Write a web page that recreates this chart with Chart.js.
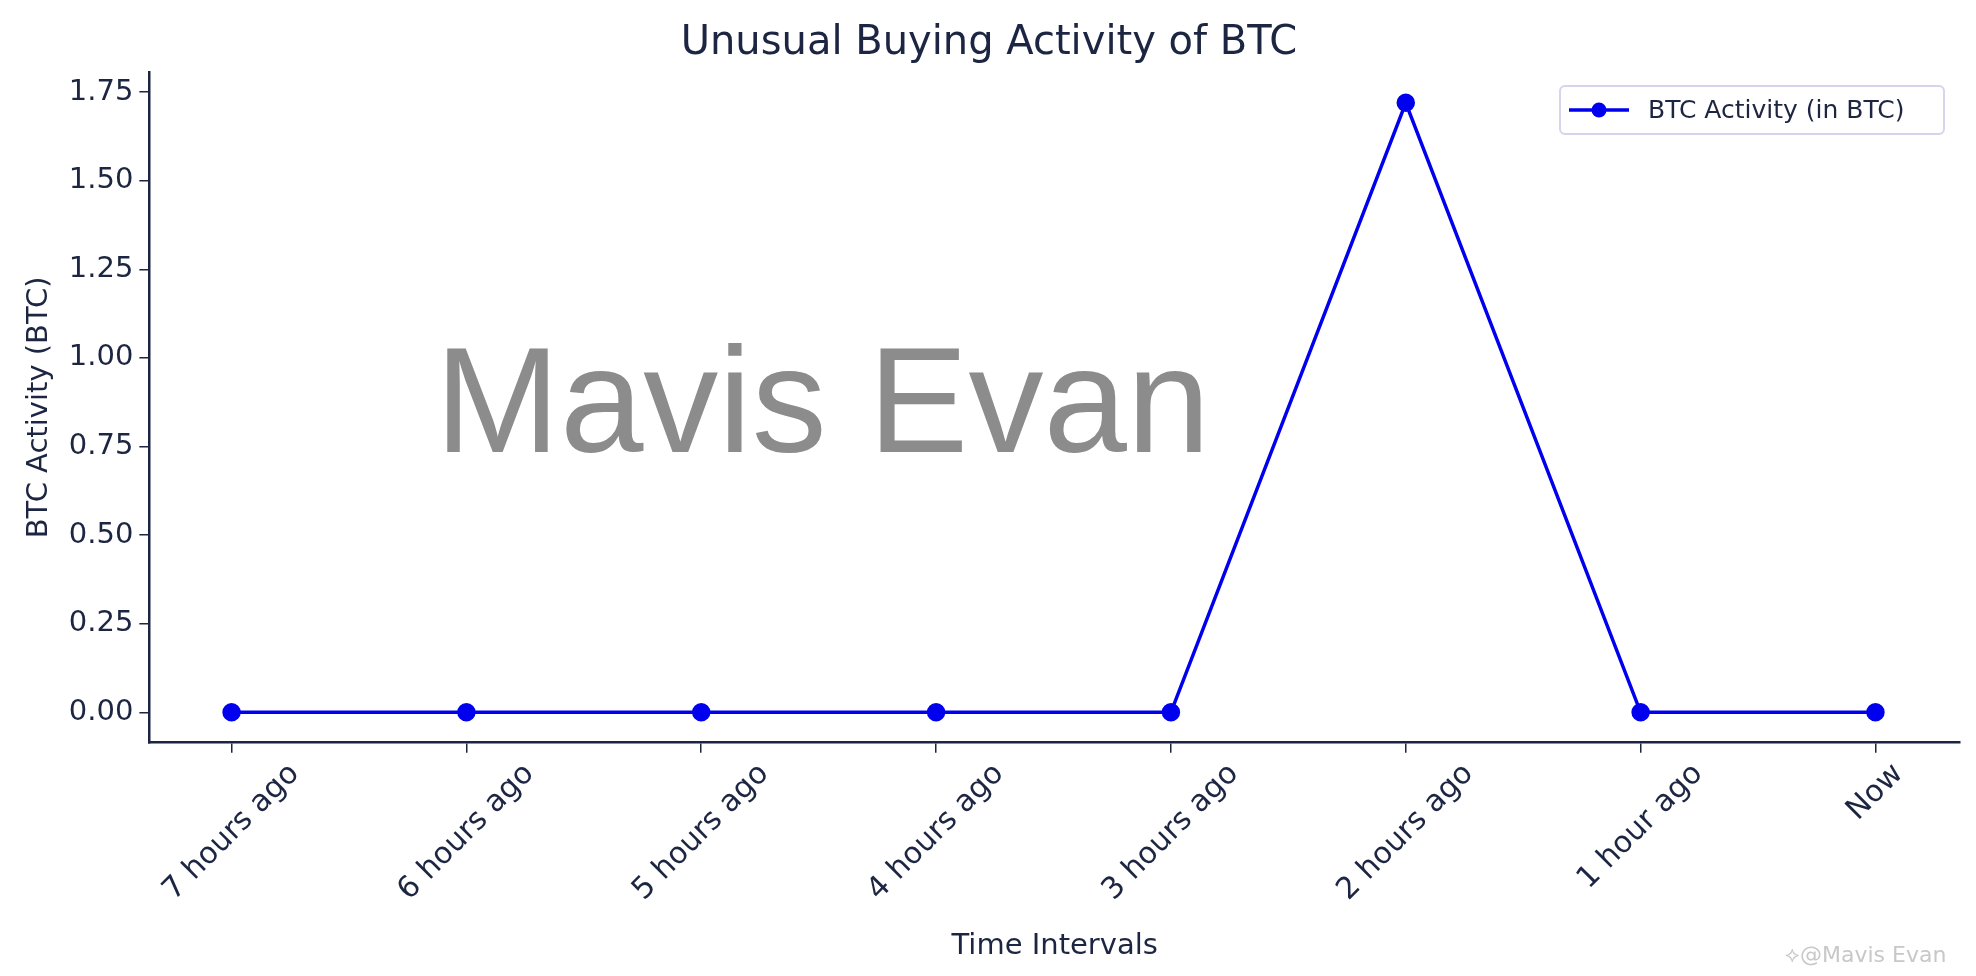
<!DOCTYPE html>
<html><head><meta charset="utf-8">
<script src="https://cdn.jsdelivr.net/npm/chart.js@4"></script>
<style>html,body{margin:0;padding:0;background:#fff}#w{width:1976px;height:976px}</style>
</head><body><div id="w"><canvas id="c"></canvas></div>
<script>
const categories = ["7 hours ago","6 hours ago","5 hours ago","4 hours ago","3 hours ago","2 hours ago","1 hour ago","Now"];
const btcValues = [0, 0, 0, 0, 0, 1.72, 0, 0];
const yTicks = [0, 0.25, 0.5, 0.75, 1.0, 1.25, 1.5, 1.75];
const seriesLabel = 'BTC Activity (in BTC)';
const ink = '#1c2541';
const F = 'DejaVu Sans';
const blue = '#0000ee';
const extras = {
  id:'extras',
  afterDraw(ch){
    const c = ch.ctx; c.save();
    const xs = ch.scales.x; const top = xs.top + 16;
    c.font = '30px "DejaVu Sans"'; c.fillStyle = ink; c.textAlign='center'; c.textBaseline='middle';
    categories.forEach((lab,i)=>{
      const w = c.measureText(lab).width, h = 30;
      const half = (w*Math.SQRT1_2 + h*Math.SQRT1_2)/2;
      c.save(); c.translate(xs.getPixelForValue(i), top + half); c.rotate(-Math.PI/4);
      c.fillText(lab,0,0); c.restore();
    });
    c.textAlign='left';
    c.fillStyle = '#8c8c8c'; c.font = '150px "Liberation Sans"'; c.textBaseline='alphabetic';
    c.fillText('Mavis Evan', 435, 452);
    c.fillStyle = '#c8c8c8'; c.font = '22px "DejaVu Sans"';
    c.fillText('⟡@Mavis Evan', 1785, 962);
    const x0=1560,y0=86,w=384,h=48;
    c.beginPath(); c.roundRect(x0,y0,w,h,5); c.fillStyle='rgba(255,255,255,0.8)'; c.fill();
    c.strokeStyle='#d4d4ea'; c.lineWidth=2; c.stroke();
    const ly=y0+h/2;
    c.strokeStyle=blue; c.lineWidth=3.5; c.beginPath(); c.moveTo(x0+9,ly); c.lineTo(x0+69,ly); c.stroke();
    c.fillStyle=blue; c.beginPath(); c.arc(x0+39,ly,7.5,0,Math.PI*2); c.fill();
    c.fillStyle=ink; c.font='25px "DejaVu Sans"'; c.textBaseline='middle';
    c.fillText(seriesLabel, x0+88, ly+1);
    c.restore();
  }
};
new Chart(document.getElementById('c'), {
  type:'line',
  data:{datasets:[{label:seriesLabel, data: btcValues.map((v,i)=>({x:i,y:v})),
    borderColor:blue, backgroundColor:blue, borderWidth:3.5, pointRadius:7.5, pointHoverRadius:7.5, tension:0}]},
  options:{responsive:true, maintainAspectRatio:false, animation:false, devicePixelRatio:1,
    layout:{padding:{left:18,right:16,top:4,bottom:8}},
    plugins:{
      title:{display:true,text:'Unusual Buying Activity of BTC',color:ink,font:{family:F,size:40,weight:'normal'},padding:{top:16,bottom:4}},
      legend:{display:false},
      tooltip:{enabled:false}
    },
    scales:{
      x:{type:'linear',min:-0.35,max:7.36,grid:{display:true,drawOnChartArea:false,tickLength:10,color:ink,lineWidth:1.5},border:{color:ink,width:2.5},
        afterBuildTicks(s){s.ticks=categories.map((_,i)=>({value:i}));},
        ticks:{color:'rgba(0,0,0,0)',font:{family:F,size:29},maxRotation:45,minRotation:45,autoSkip:false,padding:15,callback:(v)=>categories[v]},
        title:{display:true,text:'Time Intervals',color:ink,font:{family:F,size:29},padding:{top:0}}},
      y:{min:-0.086,max:1.807,grid:{display:true,drawOnChartArea:false,tickLength:10,color:ink,lineWidth:1.5},border:{color:ink,width:2.5},
        afterBuildTicks(s){s.ticks=yTicks.map(v=>({value:v}));},
        ticks:{color:ink,font:{family:F,size:29},padding:6,callback:(v)=>v.toFixed(2)},
        title:{display:true,text:'BTC Activity (BTC)',color:ink,font:{family:F,size:29},padding:{bottom:6}}}
    }
  },
  plugins:[extras]
});
</script></body></html>
